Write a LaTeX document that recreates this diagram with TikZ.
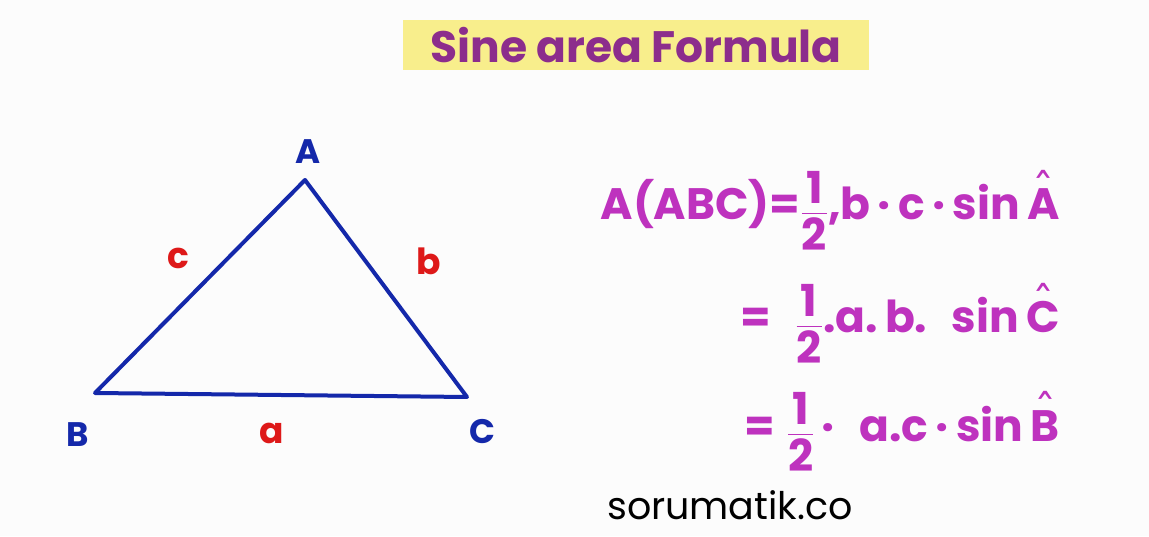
\documentclass[tikz,border=0pt]{standalone}
\usepackage{amsmath}
\usepackage{fontspec}
\setmainfont{Poppins}
\newfontfamily\hatfont{DejaVu Sans}
\usetikzlibrary{positioning}

\definecolor{paper}{RGB}{252,252,252}
\definecolor{marker}{RGB}{248,238,140}
\definecolor{plum}{RGB}{140,45,140}
\definecolor{pink}{RGB}{190,50,190}
\definecolor{ink}{RGB}{20,40,170}
\definecolor{side}{RGB}{222,25,25}

\newcommand{\hatted}[1]{\ooalign{#1\cr\hidewidth\raisebox{0.34em}{\hatfont\mdseries ˆ}\hidewidth\cr}}
\newcommand{\half}{$\dfrac{\text{1}}{\text{2}}$}

\begin{document}
\begin{tikzpicture}[x=1pt,y=1pt]
        \tikzset{
          vertex/.style={text=ink, font=\fontsize{34}{34}\selectfont\bfseries},
          sidelabel/.style={text=side, font=\fontsize{36}{36}\selectfont\bfseries},
          formula/.style={text=pink, anchor=base east, inner sep=0pt,
            font=\fontsize{44}{44}\selectfont\bfseries},
          node distance=4pt,
        }
        \fill[paper] (0,0) rectangle (1149,536);
        \useasboundingbox (0,0) rectangle (1149,536);

        % title
        \node[fill=marker, text=plum, minimum width=466pt, minimum height=50pt,
          font=\fontsize{44}{44}\selectfont\bfseries] (title) at (636,491) {Sine area Formula};

        % triangle
        \coordinate (A) at (305,356);
        \coordinate (B) at (95,143);
        \coordinate (C) at (467,139);
        \draw[ink, line width=4pt, line join=round, line cap=round]
          (A) -- (B) -- (C) -- cycle;

        \node[vertex] (lA) at (308,384) {A};
        \node[vertex] (lB) at (78,101) {B};
        \node[vertex] (lC) at (482,104) {C};
        \node[sidelabel] (lc) at (178,278) {c};
        \node[sidelabel] (lb) at (429,275) {b};
        \node[sidelabel] (la) at (272,103) {a};

        % formulas
        \node[formula] (f1) at (1060,316)
          {A(ABC)=\half,b\,·\,c\,·\,sin\,\hatted{A}};
        \node[formula] (f2) at (1060,203)
          {=\;\;\half.a.\,b.\;\;sin\,\hatted{C}};
        \node[formula] (f3) at (1060,95)
          {=\;\half\,·\;\;a.c\,·\,sin\,\hatted{B}};

        \node[font=\fontsize{38}{38}\selectfont] (site) at (730,31) {sorumatik.co};
\end{tikzpicture}
\end{document}
